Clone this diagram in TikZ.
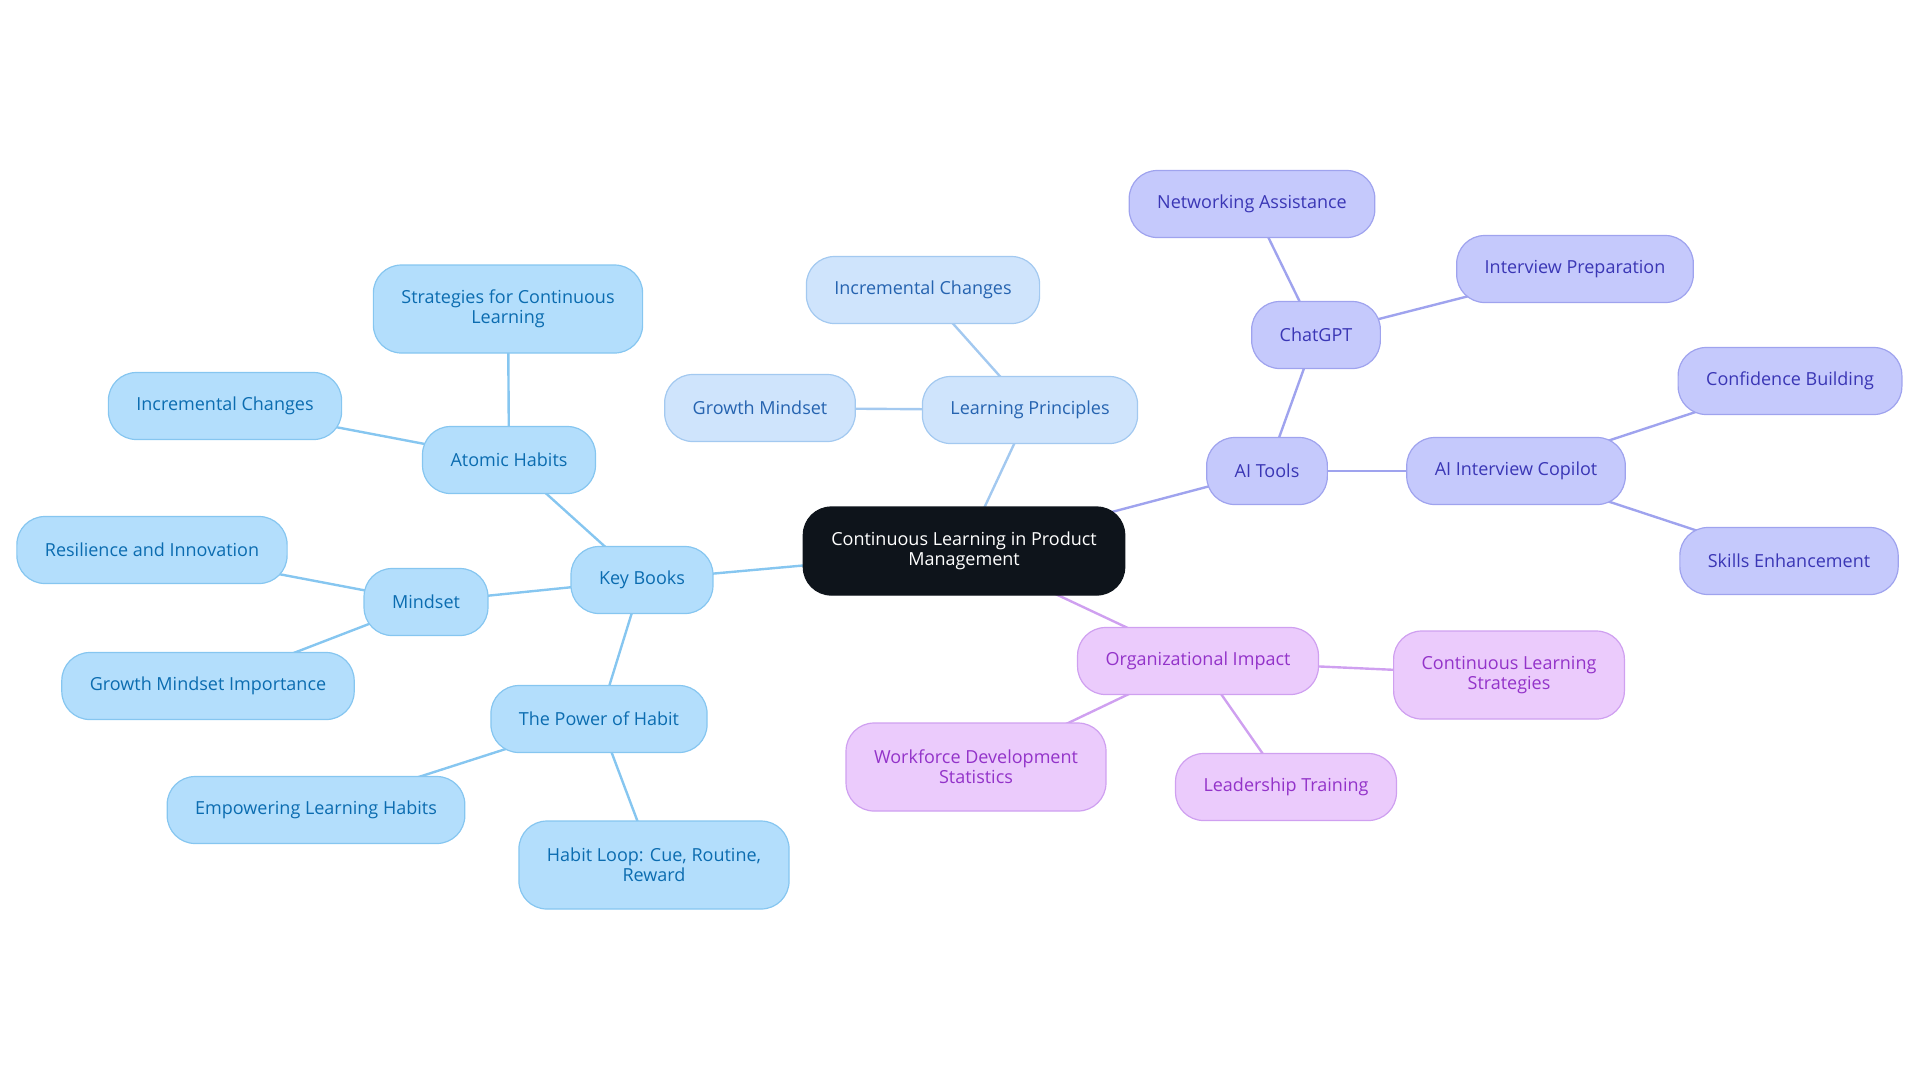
\documentclass[tikz,border=0pt]{standalone}
\usepackage{fontspec}
\setmainfont{Open Sans}
\usetikzlibrary{positioning,backgrounds}

\definecolor{rootfill}{HTML}{0E141B}
\definecolor{bookfill}{HTML}{B3DEFC}
\definecolor{bookline}{HTML}{86C6F0}
\definecolor{booktext}{HTML}{0B6CB0}
\definecolor{princfill}{HTML}{CFE4FC}
\definecolor{princline}{HTML}{A3C9F0}
\definecolor{princtext}{HTML}{2563B0}
\definecolor{aifill}{HTML}{C5C9FC}
\definecolor{ailine}{HTML}{9FA3EE}
\definecolor{aitext}{HTML}{3A36B5}
\definecolor{orgfill}{HTML}{EBCBFC}
\definecolor{orgline}{HTML}{CFA0F0}
\definecolor{orgtext}{HTML}{9333C9}

\begin{document}
\begin{tikzpicture}[x=0.5pt, y=-0.5pt,
    every node/.style={font=\fontsize{9}{9.9}\selectfont, align=center},
    box/.style={rounded corners=14pt, inner xsep=14pt, minimum height=33.5pt, line width=0.6pt},
    rootnode/.style={box, fill=rootfill, draw=rootfill, text=white},
    keybook/.style={box, fill=bookfill, draw=bookline, text=booktext},
    principle/.style={box, fill=princfill, draw=princline, text=princtext},
    aitool/.style={box, fill=aifill, draw=ailine, text=aitext},
    orgimpact/.style={box, fill=orgfill, draw=orgline, text=orgtext},
    bookedge/.style={draw=bookline, line width=1.2pt},
    princedge/.style={draw=princline, line width=1.2pt},
    aiedge/.style={draw=ailine, line width=1.2pt},
    orgedge/.style={draw=orgline, line width=1.2pt}]
    \useasboundingbox (0,0) rectangle (1920,1083);

    % Centre
    \node[rootnode, minimum height=44pt] (root) at (964,551) {Continuous Learning in Product\\Management};

    % Key Books branch
    \node[keybook] (books) at (642,580) {Key Books};
    \node[keybook] (atomic) at (509,460) {Atomic Habits};
    \node[keybook, minimum height=44pt] (strat) at (508,309) {Strategies for Continuous\\Learning};
    \node[keybook] (incrA) at (225,406) {Incremental Changes};
    \node[keybook] (mindset) at (426,602) {Mindset};
    \node[keybook] (resil) at (152,550) {Resilience and Innovation};
    \node[keybook] (gmimp) at (208,686) {Growth Mindset Importance};
    \node[keybook] (power) at (599,719) {The Power of Habit};
    \node[keybook] (empower) at (316,810) {Empowering Learning Habits};
    \node[keybook, minimum height=44pt] (loop) at (654,865) {Habit Loop: Cue, Routine,\\Reward};

    % Learning Principles branch
    \node[principle] (princ) at (1030,410) {Learning Principles};
    \node[principle] (incrB) at (923,290) {Incremental Changes};
    \node[principle] (growth) at (760,408) {Growth Mindset};

    % AI Tools branch
    \node[aitool] (ai) at (1267,471) {AI Tools};
    \node[aitool] (gpt) at (1316,335) {ChatGPT};
    \node[aitool] (network) at (1252,204) {Networking Assistance};
    \node[aitool] (interview) at (1575,269) {Interview Preparation};
    \node[aitool] (copilot) at (1516,471) {AI Interview Copilot};
    \node[aitool] (confid) at (1790,381) {Confidence Building};
    \node[aitool] (skills) at (1789,561) {Skills Enhancement};

    % Organizational Impact branch
    \node[orgimpact] (org) at (1198,661) {Organizational Impact};
    \node[orgimpact, minimum height=44pt] (clstrat) at (1509,675) {Continuous Learning\\Strategies};
    \node[orgimpact, minimum height=44pt] (workforce) at (976,767) {Workforce Development\\Statistics};
    \node[orgimpact] (leader) at (1286,787) {Leadership Training};

    % Connectors, behind the boxes
    \begin{scope}[on background layer]
    \draw[bookedge] (root.center) -- (books.center);
    \draw[bookedge] (books.center) -- (atomic.center);
    \draw[bookedge] (atomic.center) -- (strat.center);
    \draw[bookedge] (atomic.center) -- (incrA.center);
    \draw[bookedge] (books.center) -- (mindset.center);
    \draw[bookedge] (mindset.center) -- (resil.center);
    \draw[bookedge] (mindset.center) -- (gmimp.center);
    \draw[bookedge] (books.center) -- (power.center);
    \draw[bookedge] (power.center) -- (empower.center);
    \draw[bookedge] (power.center) -- (loop.center);

    \draw[princedge] (root.center) -- (princ.center);
    \draw[princedge] (princ.center) -- (incrB.center);
    \draw[princedge] (princ.center) -- (growth.center);

    \draw[aiedge] (root.center) -- (ai.center);
    \draw[aiedge] (ai.center) -- (gpt.center);
    \draw[aiedge] (gpt.center) -- (network.center);
    \draw[aiedge] (gpt.center) -- (interview.center);
    \draw[aiedge] (ai.center) -- (copilot.center);
    \draw[aiedge] (copilot.center) -- (confid.center);
    \draw[aiedge] (copilot.center) -- (skills.center);

    \draw[orgedge] (root.center) -- (org.center);
    \draw[orgedge] (org.center) -- (clstrat.center);
    \draw[orgedge] (org.center) -- (workforce.center);
    \draw[orgedge] (org.center) -- (leader.center);
    \end{scope}
\end{tikzpicture}
\end{document}
